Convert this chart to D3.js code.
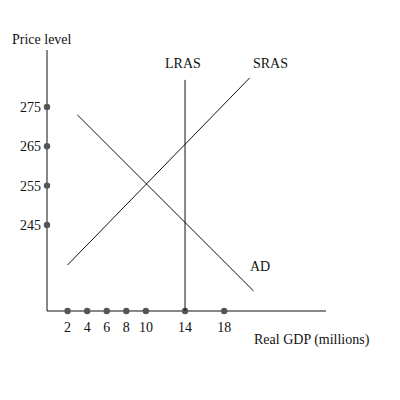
<!DOCTYPE html>
<html>
<head>
<meta charset="utf-8">
<script src="https://cdn.jsdelivr.net/npm/d3@7"></script>
<style>
  body { margin: 0; background: #fff; }
  text { font-family: "Liberation Serif", serif; font-size: 14px; fill: #111; }
</style>
</head>
<body>
<svg width="400" height="400"></svg>
<script>
// tick values shown on each axis
const xTicks = [2, 4, 6, 8, 10, 14, 18];
const yTicks = [245, 255, 265, 275];

// curve endpoints [gdp, price]
const sras = [[2.0, 234.8], [20.6, 282.4]];
const ad = [[3.0, 273.0], [21.0, 228.2]];
const lras = [[14, 223.1], [14, 281.9]];

const svg = d3.select('svg');

const x = d3.scaleLinear().domain([0, 28.4]).range([48, 326]);
const y = d3.scaleLinear().domain([223.1, 275]).range([311, 107]);

// axes
svg.append('line').attr('x1', 47).attr('x2', 47).attr('y1', 50).attr('y2', 311)
  .attr('stroke', '#111');
svg.append('line').attr('x1', 47).attr('x2', 326).attr('y1', 311).attr('y2', 311)
  .attr('stroke', '#111');

// dots on axes
svg.selectAll('.xd').data(xTicks).enter().append('circle')
  .attr('cx', d => x(d)).attr('cy', 311).attr('r', 3.2).attr('fill', '#555');
svg.selectAll('.yd').data(yTicks).enter().append('circle')
  .attr('cx', 47).attr('cy', d => y(d)).attr('r', 3.2).attr('fill', '#555');

// tick labels
svg.selectAll('.xl').data(xTicks).enter().append('text')
  .attr('x', d => x(d)).attr('y', 332).attr('text-anchor', 'middle').text(d => d);
svg.selectAll('.yl').data(yTicks).enter().append('text')
  .attr('x', 41).attr('y', d => y(d) + 5).attr('text-anchor', 'end').text(d => d);

// curves
const line = d3.line().x(d => x(d[0])).y(d => y(d[1]));
[sras, ad, lras].forEach(c => {
  svg.append('path').attr('d', line(c)).attr('stroke', '#111').attr('fill', 'none');
});

// labels
svg.append('text').attr('x', 12).attr('y', 44).text('Price level');
svg.append('text').attr('x', 165).attr('y', 68).text('LRAS');
svg.append('text').attr('x', 253).attr('y', 68).text('SRAS');
svg.append('text').attr('x', 250).attr('y', 271).text('AD');
svg.append('text').attr('x', 254).attr('y', 344).text('Real GDP (millions)');
</script>
</body>
</html>
